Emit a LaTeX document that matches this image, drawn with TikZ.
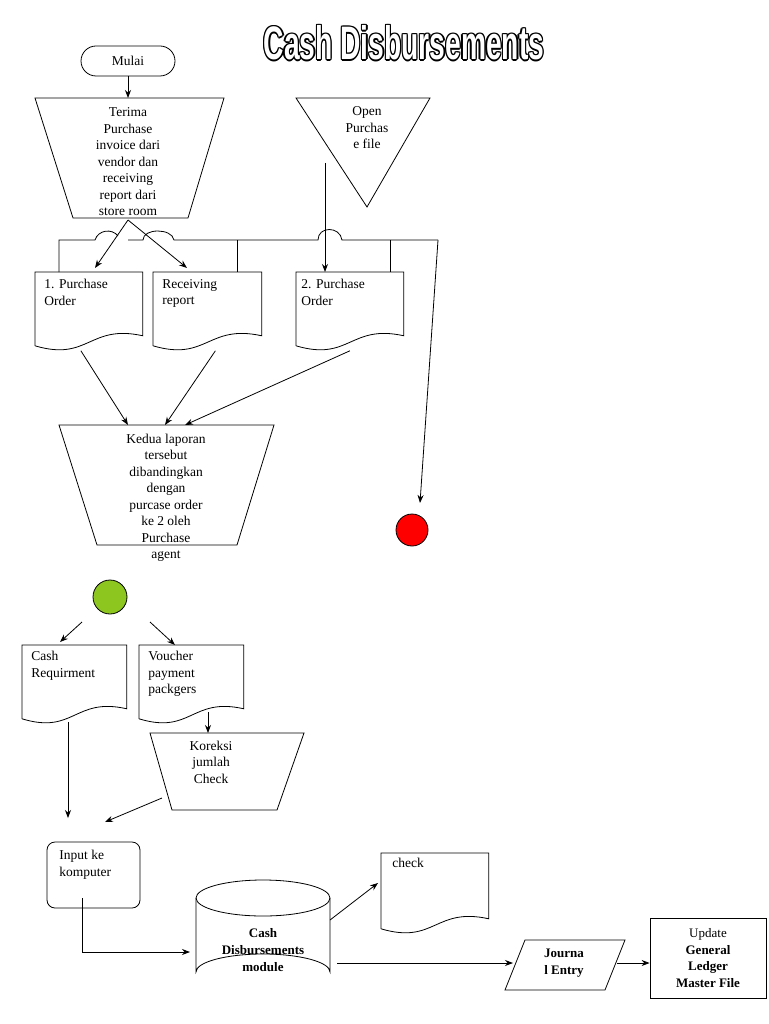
\documentclass[tikz,border=0pt]{standalone}
\usepackage{fontspec}
\setmainfont{Liberation Serif}
\newfontfamily\titlefont{Liberation Sans}
\usetikzlibrary{arrows.meta,calc}
\begin{document}
\begin{tikzpicture}[x=1pt,y=-1pt,line width=0.8pt,
  every node/.style={font=\fontsize{13.5}{16.5}\selectfont},
  arr/.style={-{Stealth[length=8pt,width=6pt]}},
  txt/.style={align=center,inner sep=0pt},
  ltxt/.style={align=left,inner sep=0pt,anchor=north west},
  ttl/.style={xscale=0.6,font=\titlefont\bfseries\fontsize{47}{47}\selectfont},
  box/.style={draw=none,inner sep=0pt,anchor=north west}]
\useasboundingbox (0,0) rectangle (768,1024);
\newcommand{\wavydoc}[1]{\draw (#1.south west) -- (#1.north west) -- (#1.north east) -- ($(#1.south east)+(0,-10)$)
  .. controls ($(#1.south)+(0,-22)$) and ($(#1.south)+(0,16)$) .. (#1.south west);}
% title (outlined)
\foreach \dx/\dy in {-1.3/0,1.3/0,0/-1.3,0/1.3,-0.95/-0.95,0.95/0.95,-0.95/0.95,0.95/-0.95}
  \node[ttl,text=black] at (404+\dx,43+\dy) {Cash Disbursements};
\node (title) [ttl,text=white] at (404,43) {Cash Disbursements};
% start
\node (mulai) [draw,rounded corners=15pt,minimum width=94pt,minimum height=30pt] at (128,61) {Mulai};
% trapezoid 1
\draw (35,98) -- (224,98) -- (188,218) -- (73,218) -- cycle;
\coordinate (t1top) at (128,98);
\coordinate (t1bot) at (128,220);
\node (t1) [txt] at (128,162) {Terima\\Purchase\\invoice dari\\vendor dan\\receiving\\report dari\\store room};
\draw[arr] (mulai) -- (t1top);
% triangle
\draw (296,98) -- (430,98) -- (367,207) -- cycle;
\node (tri) [txt] at (367,128) {Open\\Purchas\\e file};
\coordinate (tris) at (325,163);
% documents
\node (po1) [box,minimum width=107pt,minimum height=73pt] at (35,272) {};
\node (rr) [box,minimum width=108pt,minimum height=73pt] at (153,272) {};
\node (po2) [box,minimum width=107pt,minimum height=73pt] at (296,272) {};
\wavydoc{po1}\wavydoc{rr}\wavydoc{po2}
\node[ltxt] at (44,279) {1. Purchase\\Order};
\node[ltxt] at (162,279) {Receiving\\report};
\node[ltxt] at (301,279) {2. Purchase\\Order};
% bus
\coordinate (busL) at (59,240);
\coordinate (busR) at (438,240);
\draw (59,272) -- (busL) -- (95,240) .. controls (98,230) and (112,228) .. (118,236)
  (128,240) -- (143,240) .. controls (143,228) and (172,228) .. (174,240) -- (318,240)
  .. controls (318,226) and (340,226) .. (342,240) -- (busR);
\draw (237,240) -- (237,272);
\draw (390,240) -- (390,272);
\node (red) [circle,draw,fill=red,minimum size=32pt,inner sep=0pt] at (412,530) {};
\draw[arr] (busR) -- (420,503);
\draw[arr] (t1bot) -- (95,268);
\draw[arr] (t1bot) -- (187,268);
\draw[arr] (tris) -- (po2.north west -| tris);
% trapezoid 2
\draw (59,425) -- (274,425) -- (237,545) -- (97,545) -- cycle;
\node (t2) [txt] at (166,498) {Kedua laporan\\tersebut\\dibandingkan\\dengan\\purcase order\\ke 2 oleh\\Purchase\\agent};
\coordinate (t2a) at (128,425);
\coordinate (t2b) at (165,425);
\coordinate (t2c) at (185,425);
\draw[arr] ($(po1.south)+(-8,5)$) -- (t2a);
\draw[arr] ($(rr.south)+(8,5)$) -- (t2b);
\draw[arr] ($(po2.south)+(0,5)$) -- (t2c);
% green
\node (green) [circle,draw,fill={rgb,255:red,141;green,198;blue,30},minimum size=34pt,inner sep=0pt] at (110,597) {};
\node (cr) [box,minimum width=104pt,minimum height=73pt] at (22,645) {};
\node (vp) [box,minimum width=104pt,minimum height=73pt] at (139,645) {};
\wavydoc{cr}\wavydoc{vp}
\node[ltxt] at (31,651) {Cash\\Requirment};
\node[ltxt] at (148,651) {Voucher\\payment\\packgers};
\coordinate (g1) at (82,622);\coordinate (g2) at (150,622);
\draw[arr] (g1) -- (60,642);
\draw[arr] (g2) -- (175,645);
% trapezoid 3
\draw (150,733) -- (304,733) -- (277,810) -- (172,810) -- cycle;
\node (t3) [txt] at (211,762) {Koreksi\\jumlah\\Check};
\draw[arr] (208,712) -- (208,733);
% input
\node (inp) [draw,rounded corners=8pt,minimum width=93pt,minimum height=66pt] at (93.5,875) {};
\node[ltxt] at (59,850) {Input ke\\komputer};
\coordinate (crb) at (68,722);
\draw[arr] (crb) -- (68,818);
\draw[arr] (162,798) -- (105,822);
% cylinder
\draw (196,898) -- (196,972) arc[start angle=180,end angle=360,x radius=67,y radius=18] -- (330,898);
\draw (263,898) ellipse[x radius=67,y radius=18];
\node (cyl) [txt,font=\bfseries\fontsize{13}{17}\selectfont] at (263,950) {Cash\\Disbursements\\module};
\coordinate (inpb) at (82,898);
\draw[arr] (inpb) -- (82,952) -- (190,952);
% check
\node (chk) [box,minimum width=107pt,minimum height=75pt] at (381,853) {};
\wavydoc{chk}
\node[ltxt] at (392,858) {check};
\draw[arr] (330,920) -- (378,883);
% journal
\draw (525,940) -- (625,940) -- (605,990) -- (505,990) -- cycle;
\node (jr) [txt,font=\bfseries\fontsize{13}{17}\selectfont] at (564,963) {Journa\\l Entry};
\draw[arr] (337,963) -- (513,963);
% ledger
\node (gl) [draw,minimum width=116pt,minimum height=80pt] at (708,958) {};
\node[txt,font=\fontsize{13}{16.5}\selectfont] at (708,958) {Update\\\textbf{General}\\\textbf{Ledger}\\\textbf{Master File}};
\draw[arr] (617,963) -- (gl.west |- 0,963);
\end{tikzpicture}
\end{document}
